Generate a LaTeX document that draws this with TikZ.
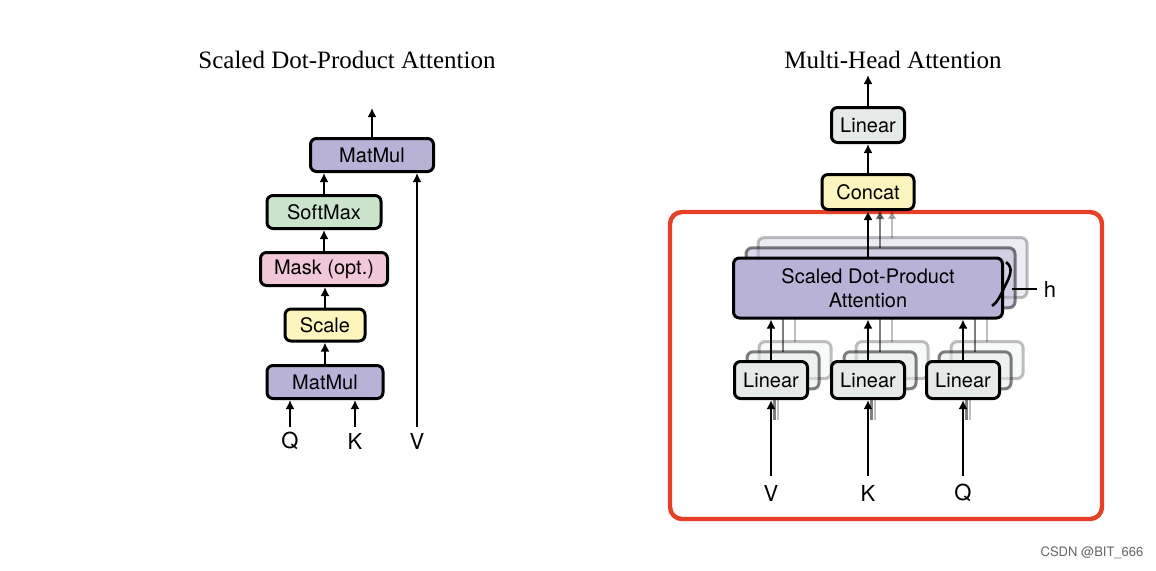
\documentclass[tikz,border=0pt]{standalone}
\usepackage{fontspec}
\setmainfont{Liberation Serif}
\newfontfamily\boxfont{TeX Gyre Heros}
\usetikzlibrary{arrows.meta}
\definecolor{cpur}{RGB}{184,179,214}
\definecolor{cgrn}{RGB}{202,229,204}
\definecolor{cpnk}{RGB}{241,200,216}
\definecolor{cyel}{RGB}{252,246,190}
\definecolor{cgry}{RGB}{229,234,232}
\definecolor{cred}{RGB}{232,64,40}
\begin{document}
\begin{tikzpicture}[x=0.5pt,y=-0.5pt,
  box/.style={draw=black,line width=1.5pt,rounded corners=3pt,font=\boxfont\fontsize{10}{11}\selectfont,inner sep=0pt,align=center},
  ar/.style={-{Latex[length=4.5pt,width=4.5pt]},line width=1.2pt},
  lbl/.style={font=\boxfont\fontsize{11}{12}\selectfont},
  ttl/.style={font=\fontsize{12.5}{14}\selectfont}]
\useasboundingbox (0,0) rectangle (1156,570);
\fill[white] (0,0) rectangle (1156,570);
% Left
\node[ttl] (t1) at (347,60) {Scaled Dot-Product Attention};
\node[box,fill=cpur,minimum width=61.5pt,minimum height=16.5pt] (mm1) at (372,155) {MatMul};
\node[box,fill=cgrn,minimum width=57pt,minimum height=16.5pt] (sm) at (324,212) {SoftMax};
\node[box,fill=cpnk,minimum width=63.5pt,minimum height=16.5pt] (mk) at (324,269) {Mask (opt.)};
\node[box,fill=cyel,minimum width=40pt,minimum height=16pt] (sc) at (325,325) {Scale};
\node[box,fill=cpur,minimum width=58pt,minimum height=16.5pt] (mm2) at (325,382) {MatMul};
\node[lbl] (q1) at (290,441) {Q};
\node[lbl] (k1) at (355,441) {K};
\node[lbl] (v1) at (417,441) {V};
\coordinate (o1) at (372,108);
\coordinate (qa) at (290,427); \coordinate (ka) at (355,427); \coordinate (va) at (417,427);
\draw[ar] (mm1.north) -- (o1);
\draw[ar] (sm.north) -- (sm.north|-mm1.south);
\draw[ar] (mk.north) -- (sm.south);
\draw[ar] (sc.north) -- (sc.north|-mk.south);
\draw[ar] (mm2.north) -- (sc.south);
\draw[ar] (qa) -- (qa|-mm2.south);
\draw[ar] (ka) -- (ka|-mm2.south);
\draw[ar] (va) -- (va|-mm1.south);
% Right
\node[ttl] (t2) at (893,60) {Multi-Head Attention};
\draw[cred,line width=2.2pt,rounded corners=6pt] (670,212) rectangle (1102,519);
\node[box,fill=cgry,minimum width=36.5pt,minimum height=17.5pt] (lin) at (868,125) {Linear};
\node[box,fill=cyel,minimum width=46pt,minimum height=17.5pt] (cc) at (868,192) {Concat};
% shadows
\foreach \d/\op in {24/0.25,12/0.5}{
  \draw[line width=1.5pt,rounded corners=3pt,draw=black,fill=cpur,opacity=\op] (734+\d,258-\d*0.85) rectangle (1003+\d,318-\d*0.85);
  \foreach \cx in {771,868,963}{
    \draw[line width=1.5pt,rounded corners=3pt,draw=black,fill=cgry,opacity=\op] (\cx-36+\d,362-\d*0.85) rectangle (\cx+36+\d,399-\d*0.85);
    \draw[line width=1.2pt,opacity=\op] (\cx+\d,362-\d*0.85) -- (\cx+\d,318-\d*0.85);
    \draw[line width=1.2pt,opacity=\op] (\cx+\d*0.3,420) -- (\cx+\d*0.3,399);
  }
  \draw[ar,opacity=\op] (868+\d,258-\d*0.85) -- (868+\d,210);
}
\node[box,fill=cpur,minimum width=134.5pt,minimum height=30pt,font=\boxfont\fontsize{10}{12}\selectfont] (sd) at (868,288) {Scaled Dot-Product\\Attention};
\node[box,fill=cgry,minimum width=36.5pt,minimum height=18.5pt] (l1) at (771,380) {Linear};
\node[box,fill=cgry,minimum width=36.5pt,minimum height=18.5pt] (l2) at (868,380) {Linear};
\node[box,fill=cgry,minimum width=36.5pt,minimum height=18.5pt] (l3) at (963,380) {Linear};
\node[lbl] (v2) at (771,493) {V};
\node[lbl] (k2) at (868,493) {K};
\node[lbl] (q2) at (963,493) {Q};
\coordinate (vb) at (771,476); \coordinate (kb) at (868,476); \coordinate (qb) at (963,476);
\draw[ar] (vb) -- (l1.south);
\draw[ar] (kb) -- (l2.south);
\draw[ar] (qb) -- (l3.south);
\draw[ar] (l1.north) -- (l1.north|-sd.south);
\draw[ar] (l2.north) -- (sd.south);
\draw[ar] (l3.north) -- (l3.north|-sd.south);
\draw[ar] (sd.north) -- (cc.south);
\draw[ar] (cc.north) -- (lin.south);
\coordinate (o2) at (868,75);
\draw[ar] (lin.north) -- (o2);
\node[lbl] (h) at (1050,289) {h};
\draw[line width=1.3pt] (1006,262) .. controls (1014,268) and (1010,276) .. (1005,286) .. controls (1000,296) and (998,302) .. (992,306);
\draw[line width=1.2pt] (1012,289) -- (h.west);
\node[font=\boxfont\fontsize{6.5}{7}\selectfont,text=black!60] (wm) at (1092,553) {CSDN @BIT\_666};
\end{tikzpicture}
\end{document}
